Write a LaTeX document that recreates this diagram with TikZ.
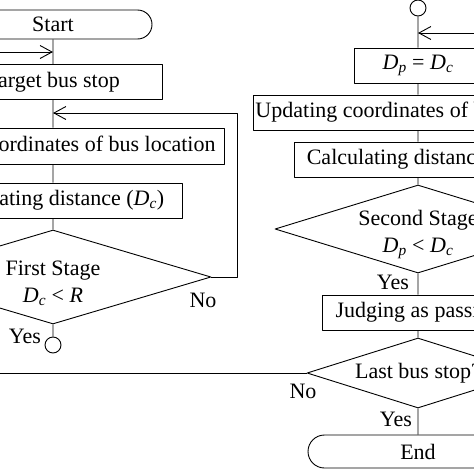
\documentclass[tikz,border=0pt]{standalone}
\usepackage{fontspec}
\setmainfont{Liberation Serif}
\usetikzlibrary{shapes.geometric,shapes.misc,arrows.meta}
\newcommand{\Dsub}[1]{\textit{D}\textsubscript{\textit{#1}}}

\begin{document}
\begin{tikzpicture}[x=1pt, y=-1pt, line width=0.9pt, line join=round,
    font=\fontsize{22}{27}\selectfont,
    >={Straight Barb[length=12pt,width=13pt]},
    proc/.style={draw, rectangle, inner sep=0pt, minimum height=35pt},
    term/.style={draw, rounded rectangle, inner sep=0pt, minimum height=30pt},
    cond/.style={draw, diamond, inner xsep=0pt, inner ysep=-8pt, align=center},
    conn/.style={draw, circle, inner sep=0pt, minimum size=16pt}]
    \useasboundingbox (0,0) rectangle (474,474);
    \clip (0,0) rectangle (474,474);
    % left column
    \node[term, minimum width=198pt, minimum height=29pt] (start) at (53,24.5) {Start};
    \node[proc, minimum width=218pt] (target) at (53,82) {Target bus stop};
    \node[proc, minimum width=342pt, minimum height=36pt] (coordL) at (53,146) {Updating coordinates of bus location};
    \node[proc, minimum width=258pt] (distL) at (53,200.5) {Calculating distance (\Dsub{c})};
    \node[cond, aspect=3.36, minimum width=316pt, minimum height=94pt, text height=54pt] (first) at (53,277) {First Stage\\\Dsub{c} < \textit{R}};
    \node[conn] (jumpL) at (53,345) {};
    % right column
    \node[conn] (jumpR) at (418,8) {};
    \node[proc, minimum width=128pt] (store) at (418,65.5) {\Dsub{p} = \Dsub{c}};
    \node[proc, minimum width=330pt] (coordR) at (418,112.5) {Updating coordinates of bus location};
    \node[proc, minimum width=248pt] (distR) at (418,159.5) {Calculating distance (\Dsub{c})};
    \node[cond, aspect=3.25, minimum width=286pt, minimum height=88pt, text height=54pt] (second) at (418,229) {Second Stage\\\Dsub{p} < \Dsub{c}};
    \node[proc, minimum width=192pt] (judge) at (418,312.5) {Judging as passing};
    \node[cond, aspect=3.17, minimum width=222pt, minimum height=70pt] (last) at (418,373) {Last bus stop?};
    \node[term, minimum width=220pt, minimum height=33pt] (end) at (418,451.5) {End};
    % joins
    \coordinate (inA) at (53,52);
    \coordinate (inB) at (53,113);
    \coordinate (inC) at (418,33);
    \draw (start) -- (target) -- (coordL) -- (distL) -- (first) -- (jumpL);
    \draw (jumpR) -- (store) -- (coordR) -- (distR) -- (second) -- (judge) -- (last) -- (end);
    \draw[->] (first.east) -- (237,277) |- (inB);
    \draw[->] (second.east) -- (580,229) |- (inC);
    \draw[->] (last.west) -- (-83,373) |- (inA);
    \foreach \n/\p/\t in {noA/{203,300}/No, yesA/{25,336}/Yes, yesB/{393,282}/Yes, noB/{303,391}/No, yesC/{396,419}/Yes}
    \node (\n) at (\p) {\t};
\end{tikzpicture}
\end{document}
